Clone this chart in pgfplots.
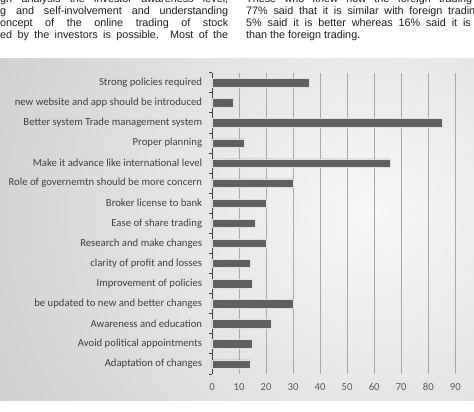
\documentclass[border=0pt]{standalone}
\usepackage{pgfplots}
\pgfplotsset{compat=1.18}
\usepackage{fontspec}
\setmainfont{Carlito}
\newfontfamily\arialfont{Liberation Sans}
\definecolor{lblcol}{HTML}{404040}
\definecolor{tickcol}{HTML}{595959}
\definecolor{barcol}{HTML}{606060}
\definecolor{gridcol}{HTML}{A8A8A8}
\definecolor{bodytext}{HTML}{1E1E1E}
\begin{document}
\begin{tikzpicture}[x=1pt,y=1pt]
\useasboundingbox (0,0) rectangle (474,412);
\begin{scope}
\clip (0,0) rectangle (474,412);
\fill[white] (0,0) rectangle (474,412);
% panel background
\begin{scope}
\clip (0,11) rectangle (474,353);
\shade[inner color=black!3, outer color=black!27] (370,200) circle (640);
\end{scope}
% body text of the page (cut off)
\begin{scope}[every node/.style={inner sep=0pt, anchor=base west, text=bodytext, font=\arialfont\fontsize{10.8}{12}\selectfont}]
\node at (0,409.7) {\makebox[228pt][s]{gh analysis the investor awareness level,}};
\node at (0,397.5) {\makebox[228pt][s]{g and self-involvement and understanding}};
\node at (0,385.3) {\makebox[228pt][s]{oncept of the online trading of stock}};
\node at (0,373.1) {\makebox[228pt][s]{ed by the investors is possible. Most of the}};
\node at (246,409.7) {\makebox[226pt][s]{These who knew how the foreign trading}};
\node at (246,397.5) {\makebox[229pt][s]{77\% said that it is similar with foreign tradin}};
\node at (246,385.3) {\makebox[224.7pt][s]{5\% said it is better whereas 16\% said it is}};
\node at (246,373.1) {than the foreign trading.};
\end{scope}
\end{scope}
\begin{axis}[
  at={(212pt,38pt)}, anchor=south west,
  scale only axis, width=243.3pt, height=301.3pt,
  xbar, bar width=8.4pt,
  xmin=0, xmax=90, ymin=-0.5, ymax=14.5,
  xtick={0,10,...,90},
  ytick={0,...,14},
  yticklabels={Adaptation of changes, Avoid political appointments, Awareness and education, be updated to new and better changes, Improvement of policies~, clarity of profit and losses, Research and make changes, Ease of share trading~, Broker license to bank, Role of governemtn should be more concern, Make it advance like international level, Proper planning~, Better system Trade management system, new website and app should be introduced, Strong policies required},
  minor ytick={-0.5,0.5,...,14.5},
  axis lines*=left, separate axis lines,
  x axis line style={draw=none},
  y axis line style={draw=black!75, line width=0.9pt, -},
  xmajorgrids, major x grid style={draw=gridcol, line width=0.8pt},
  tick align=outside, major tick length=0pt, minor tick length=3pt,
  minor y tick style={draw=black!75, line width=0.9pt},
  /pgf/number format/assume math mode=true,
  yticklabel style={font=\fontsize{10.7}{12}\selectfont, text=lblcol, anchor=east, xshift=-6.4pt},
  xticklabel style={font=\fontsize{10.7}{12}\selectfont, text=tickcol, anchor=north, yshift=-6pt},
  clip=false,
]
\addplot[fill=barcol, draw=white!88!black, line width=0.5pt] coordinates {
  (14,0) (15,1) (22,2) (30,3) (15,4) (14,5) (20,6) (16,7) (20,8) (30,9) (66,10) (12,11) (85,12) (8,13) (36,14)
};
\end{axis}
\end{tikzpicture}
\end{document}
